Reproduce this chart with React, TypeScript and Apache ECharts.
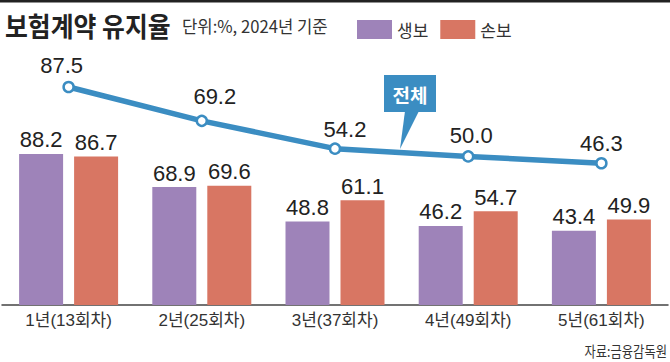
import React, { useEffect, useRef } from "react";
import * as echarts from "echarts";

const categories = ["1년(13회차)", "2년(25회차)", "3년(37회차)", "4년(49회차)", "5년(61회차)"];
const lifeValues = [88.2, 68.9, 48.8, 46.2, 43.4];
const nonLifeValues = [86.7, 69.6, 61.1, 54.7, 49.9];
const totalValues = [87.5, 69.2, 54.2, 50.0, 46.3];
const lineLabelDx = [-7, 13, 10, 3, 0];
const lineLabelDy = [0, -3, 2, 0, 1];

const NUM_FONT = "'Liberation Sans', Arial, sans-serif";
const KR_FONT = "'Noto Sans CJK KR', 'Noto Sans', sans-serif";

const PURPLE = "#9e83b9";
const ORANGE = "#d87663";
const BLUE = "#3b8dc2";

export default function App() {
  const ref = useRef<HTMLDivElement>(null);
  useEffect(() => {
    if (!ref.current) return;
    const chart = echarts.init(ref.current, null, { renderer: "svg" });
    const numLabel = {
      show: true,
      position: "top",
      distance: 3,
      fontFamily: NUM_FONT,
      fontSize: 22,
      color: "#222",
    };
    chart.setOption({
      animation: false,
      backgroundColor: "#ffffff",
      grid: { left: 2, right: 2, top: 50, bottom: 57, containLabel: false },
      legend: {
        data: ["생보", "손보"],
        left: 352,
        top: 15,
        icon: "rect",
        itemWidth: 35,
        itemHeight: 19,
        itemGap: 12,
        textStyle: { fontFamily: KR_FONT, fontSize: 17, color: "#333" },
      },
      xAxis: {
        type: "category",
        data: categories,
        axisTick: { show: false },
        axisLine: { lineStyle: { color: "#444", width: 1.5 } },
        axisLabel: {
          margin: 7,
          fontFamily: "'Liberation Sans', 'Noto Sans CJK KR', sans-serif",
          fontSize: 17,
          color: "#333",
        },
      },
      yAxis: [
        { type: "value", min: 0, max: 148.9, show: false, splitLine: { show: false } },
        { type: "value", min: -30.3, max: 107.5, show: false, splitLine: { show: false } },
      ],
      series: [
        {
          name: "생보",
          type: "bar",
          data: lifeValues,
          barWidth: 44,
          barGap: "25%",
          itemStyle: { color: PURPLE },
          label: { ...numLabel, formatter: (p: any) => p.value.toFixed(1) },
        },
        {
          name: "손보",
          type: "bar",
          data: nonLifeValues,
          barWidth: 44,
          itemStyle: { color: ORANGE },
          label: { ...numLabel, formatter: (p: any) => p.value.toFixed(1) },
        },
        {
          name: "전체",
          type: "line",
          yAxisIndex: 1,
          data: totalValues.map((v, i) => ({
            value: v,
            label: { offset: [lineLabelDx[i], lineLabelDy[i]] },
          })),
          symbol: "circle",
          symbolSize: 10,
          lineStyle: { color: BLUE, width: 5.5 },
          itemStyle: { color: "#ffffff", borderColor: BLUE, borderWidth: 2.5 },
          label: { ...numLabel, distance: 4, formatter: (p: any) => p.value.toFixed(1) },
          z: 5,
        },
      ],
      graphic: [
        { type: "rect", shape: { x: 0, y: 0, width: 670, height: 2.5 }, style: { fill: "#222" } },
        {
          type: "text",
          x: 5,
          y: 25,
          scaleX: 0.92,
          style: {
            text: "보험계약 유지율",
            font: `bold 27px ${KR_FONT}`,
            fill: "#222",
            align: "left",
            verticalAlign: "middle",
            textAlign: "left",
            textVerticalAlign: "middle",
          },
        },
        {
          type: "text",
          x: 182,
          y: 25,
          scaleX: 0.98,
          style: {
            text: "단위:%, 2024년 기준",
            font: `17px ${KR_FONT}`,
            fill: "#333",
            align: "left",
            verticalAlign: "middle",
            textAlign: "left",
            textVerticalAlign: "middle",
          },
        },
        {
          type: "rect",
          z: 10,
          shape: { x: 384, y: 75, width: 52, height: 37 },
          style: { fill: BLUE },
        },
        {
          type: "polygon",
          z: 10,
          shape: { points: [[405, 111], [419, 111], [400, 149]] },
          style: { fill: BLUE },
        },
        {
          type: "text",
          z: 11,
          x: 410,
          y: 94,
          style: {
            text: "전체",
            font: `bold 19px ${KR_FONT}`,
            fill: "#ffffff",
            align: "center",
            verticalAlign: "middle",
            textAlign: "center",
            textVerticalAlign: "middle",
          },
        },
        {
          type: "text",
          x: 667,
          y: 350,
          scaleX: 0.82,
          style: {
            text: "자료:금융감독원",
            font: `15px ${KR_FONT}`,
            fill: "#333",
            align: "right",
            verticalAlign: "middle",
            textAlign: "right",
            textVerticalAlign: "middle",
          },
        },
      ],
    });
    return () => chart.dispose();
  }, []);
  return (
    <div
      ref={ref}
      style={{ position: "fixed", left: 0, top: 0, width: 670, height: 362, background: "#fff" }}
    />
  );
}
